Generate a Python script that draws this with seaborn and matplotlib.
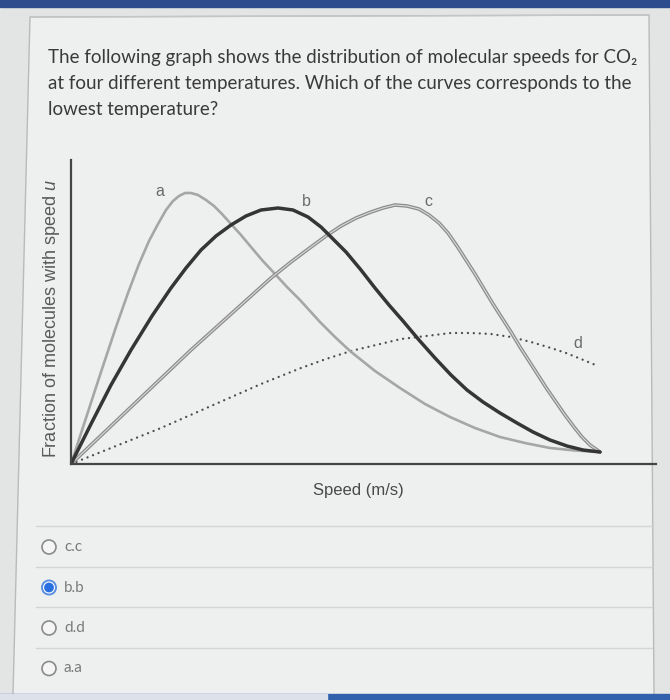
import pandas as pd
import matplotlib.pyplot as plt
from matplotlib.patches import Circle, Rectangle, Polygon
import seaborn as sns

# values (arbitrary speed / fraction units, origin at axes corner)
speed_a = [0, 15, 30, 45, 57, 68, 78, 87, 95, 102, 108, 114, 120, 127, 135, 143, 151, 160, 170,
           180, 191, 204, 216, 229, 239, 249, 264, 279, 304, 329, 354, 379, 404, 429, 454, 479, 504, 529]
frac_a = [0, 46, 92, 137, 171, 200, 223, 240, 254, 263, 268, 271, 271, 269, 264, 258, 250, 240, 229,
          217, 204, 190, 177, 164, 153, 142, 127, 113, 93, 76, 60, 47, 36, 27, 21, 16, 13.5, 12]

speed_b = [0, 20, 40, 60, 81, 100, 115, 130, 145, 160, 175, 190, 207, 222, 237, 250, 262, 275, 290,
           304, 318, 332, 348, 364, 380, 396, 412, 429, 446, 462, 479, 496, 512, 529]
frac_b = [0, 40, 79, 114, 148, 176, 196, 214, 228, 239, 248, 254, 256, 254, 247, 237, 225, 212, 194,
          176, 159, 143, 124, 106, 89, 74, 62, 51, 41, 32, 24, 18, 14, 12]

speed_c = [0, 20, 40, 60, 80, 100, 120, 140, 160, 180, 200, 220, 240, 255, 270, 285, 300, 312, 324,
           336, 348, 358, 368, 377, 386, 395, 404, 413, 422, 431, 440, 449, 458, 467, 476, 485, 494,
           503, 511, 519, 529]
frac_c = [0, 19, 38, 57, 76, 95, 114, 132, 150, 168, 186, 202, 217, 228, 238, 246, 252, 256, 259,
          258, 255, 249, 241, 231, 218, 204, 190, 175, 160, 146, 132, 117, 103, 89, 75, 62, 49,
          37, 27, 19, 12]

speed_d = [0, 30, 60, 90, 115, 140, 165, 190, 210, 230, 255, 280, 305, 330, 355, 380, 400, 420,
           440, 460, 480, 495, 510, 527]
frac_d = [0, 12, 24, 36, 47, 58, 69, 80, 88, 96, 105, 113, 119, 125, 128, 131, 131, 130,
          127, 122, 116, 111, 105, 98]

curve_labels = ['a', 'b', 'c', 'd']
label_x = [89, 235, 357, 507]
label_y = [272, 263, 263, 121]

question = ['The following graph shows the distribution of molecular speeds for CO\u2082',
            'at four different temperatures. Which of the curves corresponds to the',
            'lowest temperature?']
options = ['c.c', 'b.b', 'd.d', 'a.a']
selected = 'b.b'

sns.set_style('white')
plt.rcParams['font.family'] = ['Liberation Sans', 'DejaVu Sans']
plt.rcParams['mathtext.fontset'] = 'custom'
plt.rcParams['mathtext.it'] = 'Liberation Sans:italic'
plt.rcParams['lines.solid_joinstyle'] = 'round'
plt.rcParams['lines.solid_capstyle'] = 'round'

fig = plt.figure(figsize=(6.7, 7), dpi=100)
fig.patch.set_facecolor('#e3e5e4')

# page background drawn in pixel coordinates
bg = fig.add_axes([0, 0, 1, 1], zorder=0)
bg.set_xlim(0, 670)
bg.set_ylim(700, 0)
bg.axis('off')
bg.add_patch(Polygon([(30, 17), (649, 15), (654, 695), (13, 695)], closed=True,
                     facecolor='#eef0ef', edgecolor='#b9bbba', lw=1))
bg.plot([30, 649], [17, 15], color='#c4c6c5', lw=1)
bg.add_patch(Rectangle((0, 0), 670, 7, color='#2c4c8e'))
bg.add_patch(Rectangle((0, 694), 670, 6, color='#3160ad'))
bg.add_patch(Rectangle((0, 694), 327, 6, color='#dde2ea'))

qfont = ['Lato', 'DejaVu Sans']
for i, line in enumerate(question):
    bg.text(48, 57 + i * 26.5, line, family=qfont, fontsize=13.5, color='#3a3a3a',
            ha='left', va='center')

for i, opt in enumerate(options):
    yy = 547 + i * 40.5
    bg.plot([36, 652], [yy - 21, yy - 21], color='#d3d5d4', lw=1)
    if opt == selected:
        bg.add_patch(Circle((49, yy), 7, facecolor='white', edgecolor='#5a8ee0', lw=1.4))
        bg.add_patch(Circle((49, yy), 4.2, color='#2a6fe0'))
    else:
        bg.add_patch(Circle((49, yy), 7, facecolor='#f4f5f4', edgecolor='#8a8a8a', lw=1.2))
    bg.text(64, yy, opt, family=qfont, fontsize=11, color='#7a7a7a', ha='left', va='center')

# the chart itself
ax = fig.add_axes([71 / 670, (700 - 464) / 700, 585 / 670, 304 / 700], zorder=1)
ax.patch.set_alpha(0)

df_a = pd.DataFrame({'speed': speed_a, 'frac': frac_a})
df_b = pd.DataFrame({'speed': speed_b, 'frac': frac_b})
df_c = pd.DataFrame({'speed': speed_c, 'frac': frac_c})
df_d = pd.DataFrame({'speed': speed_d, 'frac': frac_d})

sns.lineplot(data=df_d, x='speed', y='frac', ax=ax, estimator=None, color='#4d4d4d',
             lw=1.7, linestyle=(0, (0.01, 2.5)), dash_capstyle='round')
sns.lineplot(data=df_a, x='speed', y='frac', ax=ax, estimator=None, color='#a6a6a6', lw=1.9)
sns.lineplot(data=df_c, x='speed', y='frac', ax=ax, estimator=None, color='#8c8c8c', lw=2.6)
sns.lineplot(data=df_c, x='speed', y='frac', ax=ax, estimator=None, color='#d9d9d9', lw=0.8)
sns.lineplot(data=df_b, x='speed', y='frac', ax=ax, estimator=None, color='#353535', lw=2.5)

for lab, lx, ly in zip(curve_labels, label_x, label_y):
    ax.text(lx, ly, lab, fontsize=11.5, color='#6a6a6a', ha='center', va='center')

ax.set_xlim(0, 585)
ax.set_ylim(0, 304)
ax.set_xticks([])
ax.set_yticks([])
sns.despine(ax=ax)
for side in ['left', 'bottom']:
    ax.spines[side].set_color('#454545')
    ax.spines[side].set_linewidth(1.6)

ax.set_xlabel('Speed (m/s)', fontsize=12, color='#4a4a4a', va='center')
ax.xaxis.set_label_coords((358 - 71) / 585, (464 - 490) / 304)
ax.set_ylabel('Fraction of molecules with speed $u$', fontsize=13, color='#5a5a5a', va='center')
ax.yaxis.set_label_coords((52 - 71) / 585, (464 - 319) / 304)

fig.savefig('out.png', dpi=100, facecolor=fig.get_facecolor())
